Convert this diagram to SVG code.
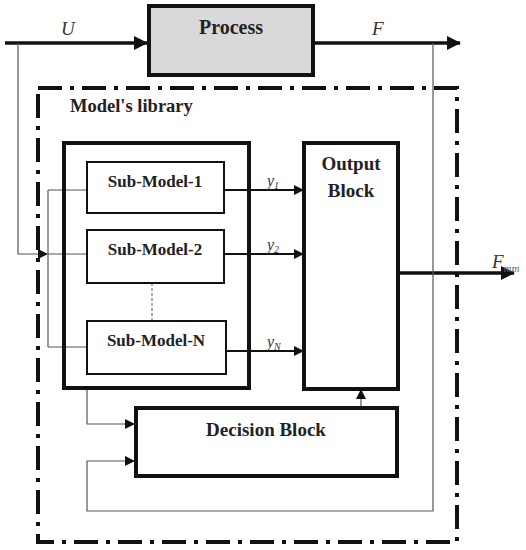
<svg xmlns="http://www.w3.org/2000/svg" width="526" height="550" viewBox="0 0 526 550">
<style>
.b{font-family:"Liberation Serif","Times New Roman",serif;font-weight:bold;fill:#222;text-anchor:middle}
.i{font-family:"Liberation Serif","Times New Roman",serif;font-style:italic;fill:#333}
.thin{stroke:#555;stroke-width:1.2;fill:none}
.med{stroke:#111;stroke-width:2;fill:none}
.thick{stroke:#111;stroke-width:3.5;fill:none}
.box{stroke:#111;stroke-width:2;fill:#fff}
</style>
<defs>
<marker id="ah" markerWidth="10" markerHeight="10" refX="9" refY="5" orient="auto" markerUnits="userSpaceOnUse"><path d="M0,0 L10,5 L0,10 z" fill="#111"/></marker>
<marker id="ahL" markerWidth="14" markerHeight="14" refX="13" refY="7" orient="auto" markerUnits="userSpaceOnUse"><path d="M0,0 L14,7 L0,14 z" fill="#111"/></marker>
</defs>
<g id="library">
<rect x="38" y="88" width="419" height="454" fill="none" stroke="#111" stroke-width="4" stroke-dasharray="24,8,4,8"/>
<text x="70" y="112" class="b" style="text-anchor:start;font-size:18.5px">Model's library</text>
</g>
<g id="connectors">
<line x1="5" y1="43" x2="147" y2="43" class="thick" marker-end="url(#ahL)"/>
<line x1="313" y1="43" x2="460" y2="43" class="thick" marker-end="url(#ahL)"/>
<polyline points="18,43 18,254 47,254" class="thin" marker-end="url(#ah)"/>
<line x1="48" y1="190" x2="48" y2="347" class="thin"/>
<line x1="48" y1="190" x2="87" y2="190" class="thin"/>
<line x1="48" y1="254" x2="87" y2="254" class="thin"/>
<line x1="48" y1="347" x2="87" y2="347" class="thin"/>
<line x1="152" y1="283" x2="152" y2="321" stroke="#555" stroke-width="1" stroke-dasharray="3,2"/>
<line x1="224" y1="190" x2="303" y2="190" class="med" marker-end="url(#ah)"/>
<line x1="224" y1="254" x2="303" y2="254" class="med" marker-end="url(#ah)"/>
<line x1="226" y1="351" x2="303" y2="351" class="med" marker-end="url(#ah)"/>
<line x1="398" y1="273" x2="514" y2="273" class="thick" marker-end="url(#ahL)"/>
<line x1="361" y1="407" x2="361" y2="390" class="thin" marker-end="url(#ah)"/>
<polyline points="87,388 87,424 134,424" class="thin" marker-end="url(#ah)"/>
<polyline points="433,43 433,511 87,511 87,461 134,461" class="thin" marker-end="url(#ah)"/>
<text x="61" y="35" class="i" style="font-size:19px">U</text>
<text x="372" y="35" class="i" style="font-size:19px">F</text>
<text x="267" y="186" class="i" style="font-size:16px">y<tspan font-size="10" dy="3">1</tspan></text>
<text x="267" y="250" class="i" style="font-size:16px">y<tspan font-size="10" dy="3">2</tspan></text>
<text x="267" y="347" class="i" style="font-size:16px">y<tspan font-size="10" dy="3">N</tspan></text>
<text x="492" y="268" class="i" style="font-size:19px">F<tspan font-size="11" dy="4" fill="#666">mm</tspan></text>
</g>
<g id="process">
<rect x="149" y="6" width="164" height="69" fill="#d9d9d9" stroke="#111" stroke-width="4"/>
<text x="231" y="34" class="b" style="font-size:20px">Process</text>
</g>
<g id="models">
<rect x="64" y="143" width="185" height="245" fill="none" stroke="#111" stroke-width="4"/>
</g>
<g id="sub1">
<rect x="87" y="162" width="137" height="51" class="box"/>
<text x="155" y="187" class="b" style="font-size:17px">Sub-Model-1</text>
</g>
<g id="sub2">
<rect x="87" y="230" width="137" height="53" class="box"/>
<text x="155" y="255" class="b" style="font-size:17px">Sub-Model-2</text>
</g>
<g id="subN">
<rect x="87" y="321" width="139" height="53" class="box"/>
<text x="156" y="346" class="b" style="font-size:17px">Sub-Model-N</text>
</g>
<g id="output">
<rect x="304" y="143" width="94" height="246" fill="#fff" stroke="#111" stroke-width="4"/>
<text x="351" y="170" class="b" style="font-size:19px">Output</text>
<text x="351" y="197" class="b" style="font-size:19px">Block</text>
</g>
<g id="decision">
<rect x="136" y="408" width="261" height="68" fill="#fff" stroke="#111" stroke-width="4"/>
<text x="266" y="436" class="b" style="font-size:19px">Decision Block</text>
</g>
</svg>
